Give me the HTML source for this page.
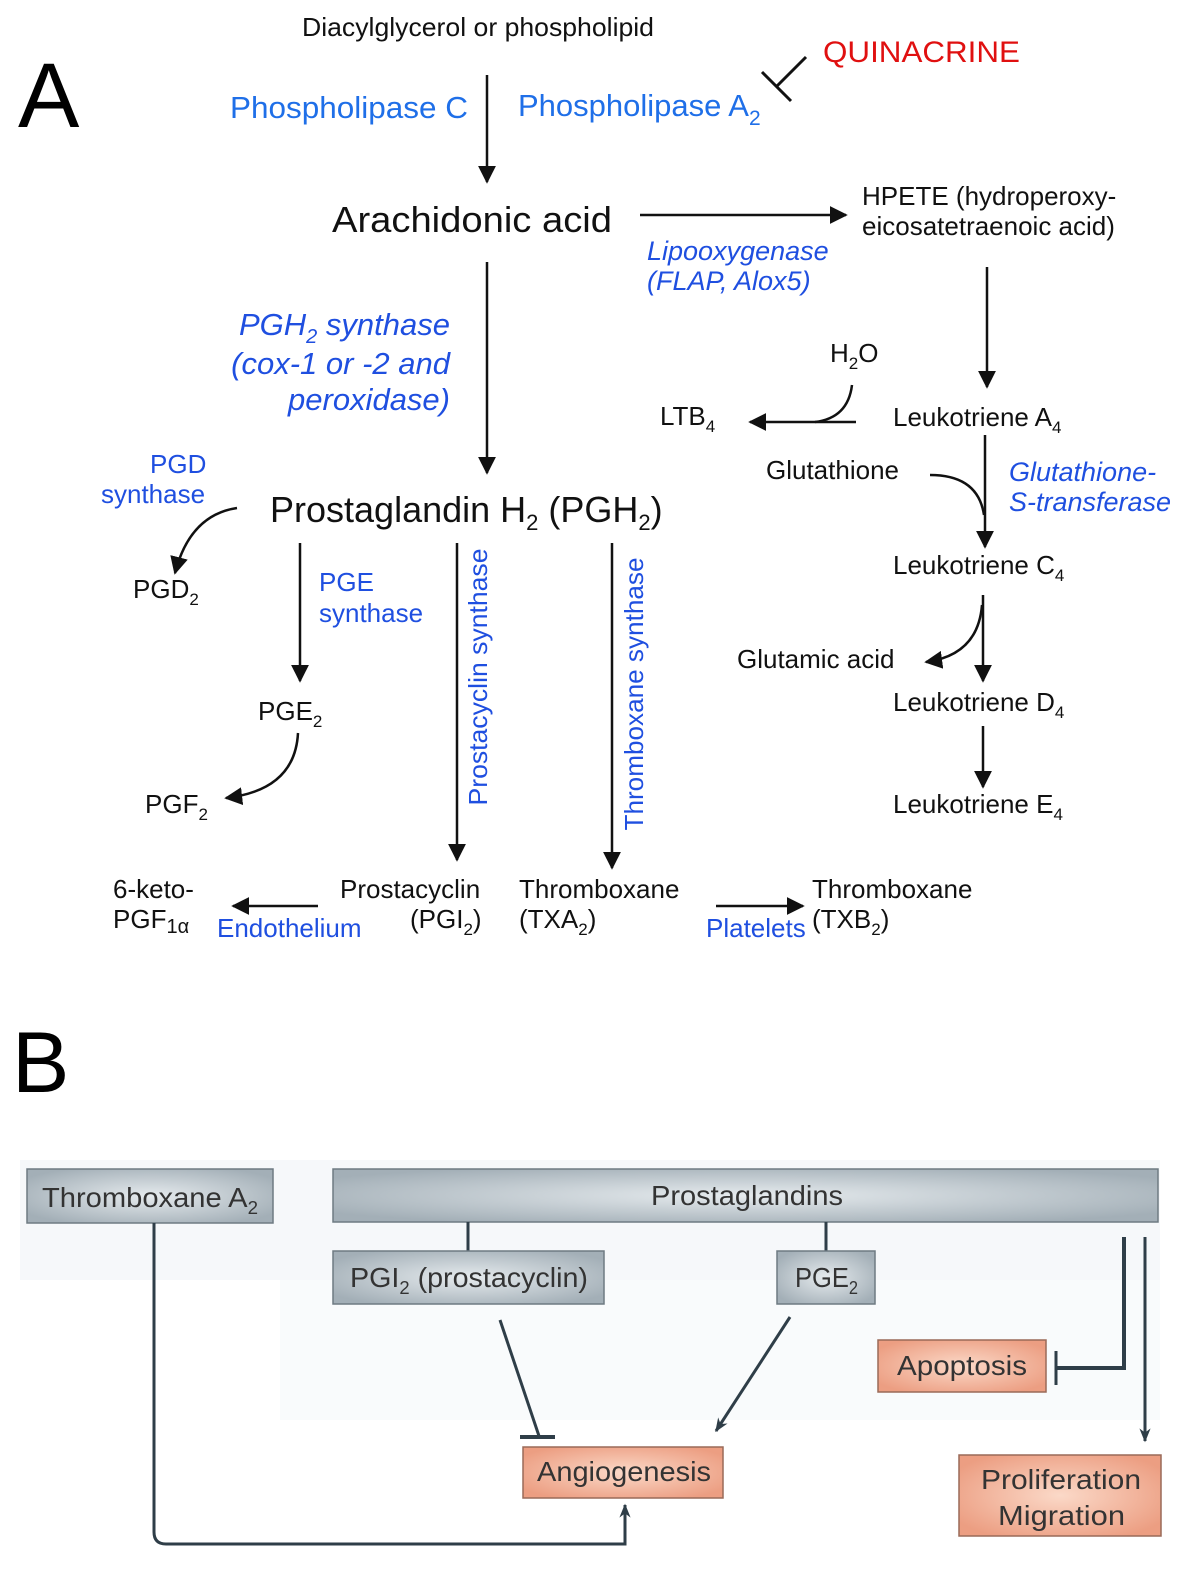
<!DOCTYPE html>
<html><head><meta charset="utf-8"><style>
html,body{margin:0;padding:0;background:#fff;overflow:hidden;width:1200px;height:1594px;}
svg{display:block;}
text{font-family:"Liberation Sans",Arial,sans-serif;}
.k{fill:#111;font-size:26px;}
.b{fill:#1f4fe0;font-size:26px;}
.bi{fill:#1f4fe0;font-size:27px;font-style:italic;}
.n{fill:#333;font-size:28px;}
</style></head><body>
<svg width="1200" height="1594" viewBox="0 0 1200 1594" xmlns="http://www.w3.org/2000/svg">
<defs>
<marker id="ah2" viewBox="0 0 10 10" refX="9" refY="5" markerWidth="18" markerHeight="18" orient="auto" markerUnits="userSpaceOnUse"><path d="M0,0 L10,5 L0,10 z" fill="#111"/></marker>
<marker id="ag" viewBox="0 0 10 10" refX="9" refY="5" markerWidth="14" markerHeight="14" orient="auto" markerUnits="userSpaceOnUse"><path d="M0,1 L10,5 L0,9 L3,5 z" fill="#2f3e48"/></marker>
<radialGradient id="gg" cx="50%" cy="50%" r="60%"><stop offset="0" stop-color="#e6ebee"/><stop offset="1" stop-color="#a3afb7"/></radialGradient>
<radialGradient id="sg" cx="50%" cy="50%" r="60%"><stop offset="0" stop-color="#fbd9c8"/><stop offset="1" stop-color="#ec9e82"/></radialGradient>
</defs>

<!-- Part A -->
<text x="18" y="127" style="font-size:92px;fill:#000">A</text>
<text x="302" y="36" class="k" textLength="352" lengthAdjust="spacingAndGlyphs">Diacylglycerol or phospholipid</text>
<text x="823" y="62" style="font-size:30px;fill:#e01010" textLength="197" lengthAdjust="spacingAndGlyphs">QUINACRINE</text>
<line x1="806" y1="57" x2="777" y2="86" stroke="#111" stroke-width="3"/>
<line x1="762" y1="72" x2="791" y2="101" stroke="#111" stroke-width="3"/>
<text x="230" y="118" style="font-size:31px;fill:#1f6fe8" textLength="238" lengthAdjust="spacingAndGlyphs">Phospholipase C</text>
<text x="518" y="116" style="font-size:31px;fill:#1f6fe8">Phospholipase A<tspan dy="9" style="font-size:21px">2</tspan></text>
<line x1="487" y1="75" x2="487" y2="182" stroke="#111" stroke-width="2.5" marker-end="url(#ah2)"/>
<text x="332" y="232" style="font-size:36px;fill:#111" textLength="280" lengthAdjust="spacingAndGlyphs">Arachidonic acid</text>
<line x1="640" y1="215" x2="846" y2="215" stroke="#111" stroke-width="2.5" marker-end="url(#ah2)"/>
<text x="862" y="205" class="k">HPETE (hydroperoxy-</text>
<text x="862" y="235" class="k">eicosatetraenoic acid)</text>
<text x="647" y="260" class="bi">Lipooxygenase</text>
<text x="647" y="290" class="bi">(FLAP, Alox5)</text>
<line x1="487" y1="262" x2="487" y2="473" stroke="#111" stroke-width="2.5" marker-end="url(#ah2)"/>
<text x="450" y="335" text-anchor="end" style="font-size:31px;font-style:italic;fill:#1f4fe0">PGH<tspan dy="8" style="font-size:20px">2</tspan><tspan dy="-8"> synthase</tspan></text>
<text x="450" y="374" text-anchor="end" style="font-size:31px;font-style:italic;fill:#1f4fe0">(cox-1 or -2 and</text>
<text x="450" y="410" text-anchor="end" style="font-size:31px;font-style:italic;fill:#1f4fe0">peroxidase)</text>

<line x1="987" y1="267" x2="987" y2="387" stroke="#111" stroke-width="2.5" marker-end="url(#ah2)"/>
<text x="830" y="362" class="k">H<tspan dy="7" style="font-size:17px">2</tspan><tspan dy="-7">O</tspan></text>
<path d="M852,385 Q848,418 815,422" fill="none" stroke="#111" stroke-width="2.5"/>
<line x1="856" y1="422" x2="750" y2="422" stroke="#111" stroke-width="2.5" marker-end="url(#ah2)"/>
<text x="660" y="425" class="k">LTB<tspan dy="7" style="font-size:17px">4</tspan></text>
<text x="893" y="426" class="k">Leukotriene A<tspan dy="7" style="font-size:17px">4</tspan></text>
<text x="766" y="479" class="k">Glutathione</text>
<path d="M930,475 Q978,475 984,515" fill="none" stroke="#111" stroke-width="2.5"/>
<line x1="985" y1="435" x2="985" y2="547" stroke="#111" stroke-width="2.5" marker-end="url(#ah2)"/>
<text x="1009" y="481" class="bi">Glutathione-</text>
<text x="1009" y="511" class="bi">S-transferase</text>
<text x="893" y="574" class="k">Leukotriene C<tspan dy="7" style="font-size:17px">4</tspan></text>
<line x1="983" y1="595" x2="983" y2="681" stroke="#111" stroke-width="2.5" marker-end="url(#ah2)"/>
<path d="M982,605 Q978,655 926,662" fill="none" stroke="#111" stroke-width="2.5" marker-end="url(#ah2)"/>
<text x="737" y="668" class="k">Glutamic acid</text>
<text x="893" y="711" class="k">Leukotriene D<tspan dy="7" style="font-size:17px">4</tspan></text>
<line x1="983" y1="726" x2="983" y2="787" stroke="#111" stroke-width="2.5" marker-end="url(#ah2)"/>
<text x="893" y="813" class="k">Leukotriene E<tspan dy="7" style="font-size:17px">4</tspan></text>

<text x="150" y="473" class="b">PGD</text>
<text x="101" y="503" class="b">synthase</text>
<text x="270" y="522" style="font-size:36px;fill:#111">Prostaglandin H<tspan dy="8" style="font-size:22px">2</tspan><tspan dy="-8"> (PGH</tspan><tspan dy="8" style="font-size:22px">2</tspan><tspan dy="-8">)</tspan></text>
<path d="M237,508 Q190,515 175,573" fill="none" stroke="#111" stroke-width="2.5" marker-end="url(#ah2)"/>
<text x="133" y="598" class="k">PGD<tspan dy="7" style="font-size:17px">2</tspan></text>
<line x1="300" y1="543" x2="300" y2="681" stroke="#111" stroke-width="2.5" marker-end="url(#ah2)"/>
<text x="319" y="591" class="b">PGE</text>
<text x="319" y="622" class="b">synthase</text>
<text x="258" y="720" class="k">PGE<tspan dy="7" style="font-size:17px">2</tspan></text>
<path d="M298,733 Q295,790 226,798" fill="none" stroke="#111" stroke-width="2.5" marker-end="url(#ah2)"/>
<text x="145" y="813" class="k">PGF<tspan dy="7" style="font-size:17px">2</tspan></text>
<line x1="457" y1="543" x2="457" y2="860" stroke="#111" stroke-width="2.5" marker-end="url(#ah2)"/>
<text transform="translate(487,677) rotate(-90)" text-anchor="middle" class="b" textLength="257" lengthAdjust="spacingAndGlyphs">Prostacyclin synthase</text>
<line x1="612" y1="543" x2="612" y2="868" stroke="#111" stroke-width="2.5" marker-end="url(#ah2)"/>
<text transform="translate(643,694) rotate(-90)" text-anchor="middle" class="b" textLength="273" lengthAdjust="spacingAndGlyphs">Thromboxane synthase</text>

<text x="113" y="898" class="k">6-keto-</text>
<text x="113" y="928" class="k">PGF<tspan dy="5" style="font-size:20px">1α</tspan></text>
<line x1="318" y1="906" x2="233" y2="906" stroke="#111" stroke-width="2.5" marker-end="url(#ah2)"/>
<text x="217" y="937" class="b">Endothelium</text>
<text x="340" y="898" class="k">Prostacyclin</text>
<text x="410" y="928" class="k">(PGI<tspan dy="7" style="font-size:17px">2</tspan><tspan dy="-7">)</tspan></text>
<text x="519" y="898" class="k">Thromboxane</text>
<text x="519" y="928" class="k">(TXA<tspan dy="7" style="font-size:17px">2</tspan><tspan dy="-7">)</tspan></text>
<line x1="716" y1="906" x2="803" y2="906" stroke="#111" stroke-width="2.5" marker-end="url(#ah2)"/>
<text x="706" y="937" class="b">Platelets</text>
<text x="812" y="898" class="k">Thromboxane</text>
<text x="812" y="928" class="k">(TXB<tspan dy="7" style="font-size:17px">2</tspan><tspan dy="-7">)</tspan></text>

<!-- Part B -->
<text x="12" y="1092" style="font-size:86px;fill:#000">B</text>
<rect x="20" y="1160" width="1140" height="120" fill="#f6f8fa"/>
<rect x="280" y="1280" width="880" height="140" fill="#f9fbfc"/>

<rect x="27" y="1169" width="246" height="54" fill="url(#gg)" stroke="#6e7a82" stroke-width="1.5"/>
<text x="42" y="1207" class="n" textLength="216" lengthAdjust="spacingAndGlyphs">Thromboxane A<tspan dy="7" style="font-size:18px">2</tspan></text>
<rect x="333" y="1169" width="825" height="53" fill="url(#gg)" stroke="#6e7a82" stroke-width="1.5"/>
<text x="651" y="1205" class="n" textLength="192" lengthAdjust="spacingAndGlyphs">Prostaglandins</text>
<line x1="468" y1="1222" x2="468" y2="1251" stroke="#2f3e48" stroke-width="3"/>
<line x1="826" y1="1222" x2="826" y2="1251" stroke="#2f3e48" stroke-width="3"/>
<rect x="333" y="1251" width="271" height="53" fill="url(#gg)" stroke="#6e7a82" stroke-width="1.5"/>
<text x="350" y="1287" class="n" textLength="238" lengthAdjust="spacingAndGlyphs">PGI<tspan dy="7" style="font-size:18px">2</tspan><tspan dy="-7"> (prostacyclin)</tspan></text>
<rect x="777" y="1251" width="98" height="53" fill="url(#gg)" stroke="#6e7a82" stroke-width="1.5"/>
<text x="795" y="1287" class="n" textLength="63" lengthAdjust="spacingAndGlyphs">PGE<tspan dy="7" style="font-size:18px">2</tspan></text>

<line x1="500" y1="1320" x2="539" y2="1436" stroke="#2f3e48" stroke-width="3"/>
<line x1="520" y1="1437" x2="555" y2="1437" stroke="#2f3e48" stroke-width="4"/>
<line x1="790" y1="1317" x2="716" y2="1431" stroke="#2f3e48" stroke-width="3" marker-end="url(#ag)"/>

<rect x="523" y="1447" width="200" height="51" fill="url(#sg)" stroke="#9a6a58" stroke-width="1.5"/>
<text x="537" y="1481" class="n" textLength="174" lengthAdjust="spacingAndGlyphs">Angiogenesis</text>
<rect x="878" y="1340" width="168" height="52" fill="url(#sg)" stroke="#9a6a58" stroke-width="1.5"/>
<text x="897" y="1375" class="n" textLength="130" lengthAdjust="spacingAndGlyphs">Apoptosis</text>
<rect x="959" y="1455" width="202" height="81" fill="url(#sg)" stroke="#9a6a58" stroke-width="1.5"/>
<text x="981" y="1489" class="n" textLength="160" lengthAdjust="spacingAndGlyphs">Proliferation</text>
<text x="998" y="1525" class="n" textLength="127" lengthAdjust="spacingAndGlyphs">Migration</text>

<polyline points="1124,1237 1124,1368 1057,1368" fill="none" stroke="#2f3e48" stroke-width="4"/>
<line x1="1056" y1="1351" x2="1056" y2="1385" stroke="#2f3e48" stroke-width="3"/>
<line x1="1145" y1="1237" x2="1145" y2="1441" stroke="#2f3e48" stroke-width="3" marker-end="url(#ag)"/>

<path d="M154,1223 L154,1532 Q154,1544 166,1544 L625,1544 L625,1505" fill="none" stroke="#2f3e48" stroke-width="3" marker-end="url(#ag)"/>
</svg>
</body></html>
